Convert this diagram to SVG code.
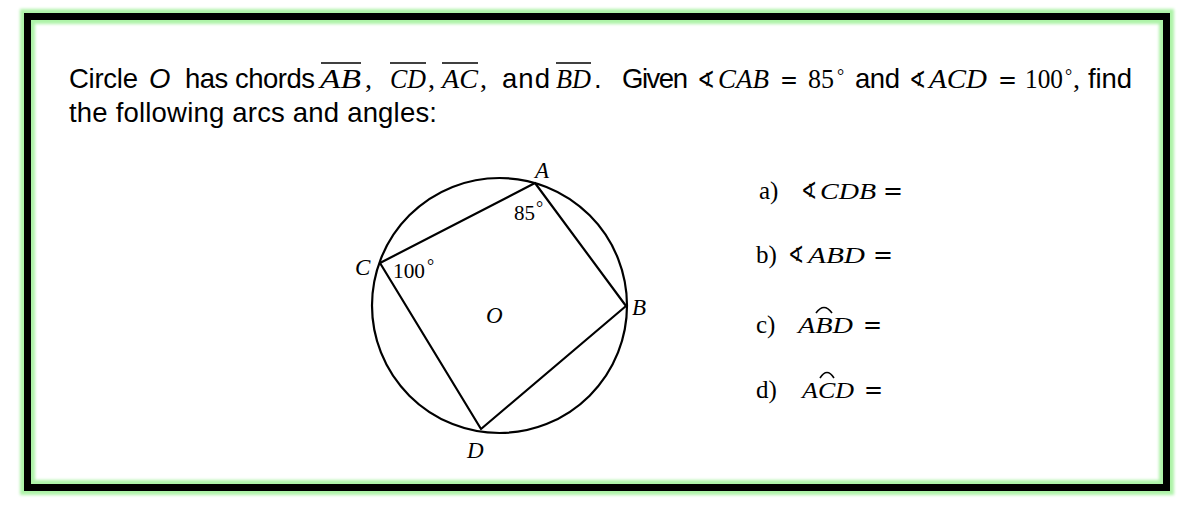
<svg xmlns="http://www.w3.org/2000/svg" width="1200" height="513" viewBox="0 0 1200 513">
<defs>
<filter id="glow" x="-5%" y="-5%" width="110%" height="110%"><feGaussianBlur stdDeviation="1.8"/></filter>
<style>
.sans{font-family:"Liberation Sans",Arial,sans-serif;font-size:27.5px;fill:#000}
.mi{font-family:"Liberation Serif","Times New Roman",serif;font-style:italic;font-size:28px;fill:#000}
.mr{font-family:"Liberation Serif","Times New Roman",serif;font-size:28px;fill:#000}
.eq{font-family:"DejaVu Sans",sans-serif;font-size:24px;fill:#000}
.ang{font-family:"DejaVu Sans","DejaVu Serif",sans-serif;font-size:24px;fill:#000}
.lbl{font-family:"Liberation Serif","Times New Roman",serif;font-style:italic;font-size:23px;fill:#000}
.num{font-family:"Liberation Serif","Times New Roman",serif;font-size:21px;fill:#000}
.deg{font-family:"Liberation Serif","Times New Roman",serif;font-size:18px;fill:#000}
.li{font-family:"Liberation Serif","Times New Roman",serif;font-size:25px;fill:#000}
.lim{font-family:"Liberation Serif","Times New Roman",serif;font-style:italic;font-size:24px;fill:#000}
.bar{stroke:#000;stroke-width:1.6;fill:none}
.edge{stroke:#000;stroke-width:2.2;fill:none;stroke-linejoin:round}
</style>
</defs>
<rect width="1200" height="513" fill="#fff"/>
<g id="frame">
<rect x="27.5" y="16.5" width="1139" height="471" fill="none" stroke="#aef3a8" stroke-width="15" filter="url(#glow)"/>
<rect x="27.5" y="16.5" width="1139" height="471" fill="none" stroke="#000" stroke-width="7"/>
</g>
<g id="title">
<text class="sans" x="69" y="88" textLength="69">Circle</text>
<text class="sans" x="149" y="88" font-style="italic">O</text>
<text class="sans" x="185" y="88" textLength="130">has chords</text>
<text class="mi" x="320" y="88" textLength="41" lengthAdjust="spacingAndGlyphs">AB</text>
<text class="mr" x="365" y="88">,</text>
<text class="mi" x="390" y="88" textLength="36" lengthAdjust="spacingAndGlyphs">CD</text>
<text class="mr" x="428" y="88">,</text>
<text class="mi" x="442" y="88" textLength="36" lengthAdjust="spacingAndGlyphs">AC</text>
<text class="mr" x="480" y="88">,</text>
<text class="sans" x="502" y="88" textLength="48">and</text>
<text class="mi" x="556" y="88" textLength="35" lengthAdjust="spacingAndGlyphs">BD</text>
<text class="sans" x="594" y="88">.</text>
<text class="sans" x="622" y="88" textLength="66">Given</text>
<text class="ang" x="697" y="88" textLength="18" lengthAdjust="spacingAndGlyphs">∢</text>
<text class="mi" x="718" y="88" textLength="51" lengthAdjust="spacingAndGlyphs">CAB</text>
<text class="eq" x="780" y="88" textLength="18" lengthAdjust="spacingAndGlyphs">=</text>
<text class="mr" x="808" y="88" textLength="26" lengthAdjust="spacingAndGlyphs">85</text>
<text class="deg" x="837" y="82">°</text>
<text class="sans" x="855" y="88" textLength="45">and</text>
<text class="ang" x="909" y="88" textLength="17" lengthAdjust="spacingAndGlyphs">∢</text>
<text class="mi" x="929" y="88" textLength="58" lengthAdjust="spacingAndGlyphs">ACD</text>
<text class="eq" x="998" y="88" textLength="19" lengthAdjust="spacingAndGlyphs">=</text>
<text class="mr" x="1025" y="88" textLength="38" lengthAdjust="spacingAndGlyphs">100</text>
<text class="deg" x="1065" y="82">°</text>
<text class="mr" x="1073" y="88">,</text>
<text class="sans" x="1088" y="88" textLength="44">find</text>
<line class="bar" x1="321" y1="63" x2="361" y2="63"/>
<line class="bar" x1="390" y1="63" x2="426" y2="63"/>
<line class="bar" x1="442" y1="63" x2="478" y2="63"/>
<line class="bar" x1="556" y1="63" x2="591" y2="63"/>
<text class="sans" x="69" y="122" textLength="368">the following arcs and angles:</text>
</g>
<g id="circle">
<circle cx="499.5" cy="305.5" r="127.5" fill="none" stroke="#000" stroke-width="2.2"/>
</g>
<g id="connectors">
<polygon class="edge" points="535,183 626,306 481,429 380,263"/>
</g>
<g id="node-A"><text class="lbl" x="535" y="178">A</text></g>
<g id="node-B"><text class="lbl" x="632" y="315">B</text></g>
<g id="node-C"><text class="lbl" x="355" y="275">C</text></g>
<g id="node-D"><text class="lbl" x="467" y="458">D</text></g>
<g id="node-O"><text class="lbl" x="486" y="323">O</text></g>
<g id="angle-85"><text class="num" x="514" y="220" textLength="21" lengthAdjust="spacingAndGlyphs">85</text><text class="deg" x="536" y="214" font-size="14">°</text></g>
<g id="angle-100"><text class="num" x="393" y="278" textLength="32" lengthAdjust="spacingAndGlyphs">100</text><text class="deg" x="427" y="272" font-size="14">°</text></g>
<g id="questions">
<text class="li" x="759" y="199">a)</text>
<text class="ang" x="801" y="199" font-size="22" textLength="16" lengthAdjust="spacingAndGlyphs">∢</text>
<text class="lim" x="820" y="199" textLength="56" lengthAdjust="spacingAndGlyphs">CDB</text>
<text class="eq" x="883" y="199" font-size="22" textLength="20" lengthAdjust="spacingAndGlyphs">=</text>
<text class="li" x="756" y="263">b)</text>
<text class="ang" x="788" y="263" font-size="22" textLength="16" lengthAdjust="spacingAndGlyphs">∢</text>
<text class="lim" x="808" y="263" textLength="57" lengthAdjust="spacingAndGlyphs">ABD</text>
<text class="eq" x="873" y="263" font-size="22" textLength="20" lengthAdjust="spacingAndGlyphs">=</text>
<text class="li" x="756" y="333">c)</text>
<text class="lim" x="798" y="333" textLength="55" lengthAdjust="spacingAndGlyphs">ABD</text>
<path class="bar" d="M816,313 Q824,302 832,313"/>
<text class="eq" x="863" y="333" font-size="22" textLength="19" lengthAdjust="spacingAndGlyphs">=</text>
<text class="li" x="756" y="398">d)</text>
<text class="lim" x="802" y="398" textLength="52" lengthAdjust="spacingAndGlyphs">ACD</text>
<path class="bar" d="M820,378 Q827,367 834,378"/>
<text class="eq" x="864" y="398" font-size="22" textLength="19" lengthAdjust="spacingAndGlyphs">=</text>
</g>
</svg>
